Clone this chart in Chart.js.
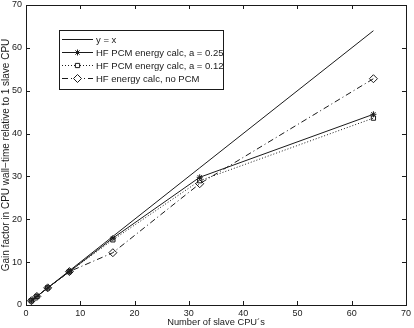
<!DOCTYPE html>
<html>
<head>
<meta charset="utf-8">
<script src="https://cdn.jsdelivr.net/npm/chart.js@4.4.1/dist/chart.umd.min.js"></script>
<style>
  html, body { margin: 0; padding: 0; background: #fff; }
  #wrap { width: 414px; height: 328px; }
</style>
</head>
<body>
<div id="wrap"><canvas id="chart" width="414" height="328"></canvas></div>
<script>
// number of slave CPUs
const cpus = [1, 2, 4, 8, 16, 32, 64];
// gain factors
const ideal = [1, 2, 4, 8, 16, 32, 64];
const pcm025 = [1, 2, 4, 7.8, 15.6, 29.8, 44.5];
const pcm012 = [1, 2, 4, 7.8, 15.2, 29.0, 43.6];
const noPcm = [1, 2, 4, 7.8, 12.2, 28.3, 52.8];
const seriesNames = ['y = x', 'HF PCM energy calc, a = 0.25', 'HF PCM energy calc, a = 0.12', 'HF energy calc, no PCM'];
const axisTicks = [0, 10, 20, 30, 40, 50, 60, 70];

const FONT = 'Liberation Sans, Arial, sans-serif';
const INK = '#1a1a1a';

function toPoints(ys) {
  return cpus.map((x, i) => ({ x: x, y: ys[i] }));
}

// inward ticks on all four sides plus the box
const boxTicks = {
  id: 'boxTicks',
  afterDraw(chart) {
    const { ctx, chartArea: a, scales } = chart;
    ctx.save();
    ctx.strokeStyle = INK;
    ctx.lineWidth = 1;
    ctx.strokeRect(a.left + 0.5, a.top + 0.5, a.right - a.left, a.bottom - a.top);
    ctx.beginPath();
    axisTicks.forEach(v => {
      const px = Math.round(scales.x.getPixelForValue(v)) + 0.5;
      ctx.moveTo(px, a.bottom); ctx.lineTo(px, a.bottom - 4);
      ctx.moveTo(px, a.top); ctx.lineTo(px, a.top + 4);
      const py = Math.round(scales.y.getPixelForValue(v)) + 0.5;
      ctx.moveTo(a.left, py); ctx.lineTo(a.left + 4, py);
      ctx.moveTo(a.right, py); ctx.lineTo(a.right - 4, py);
    });
    ctx.stroke();
    ctx.restore();
  }
};

// matlab style legend box inside the plot
const boxLegend = {
  id: 'boxLegend',
  afterDatasetsDraw(chart) {
    const { ctx, chartArea: a } = chart;
    const left = a.left + 33, top = a.top + 25, w = 164, h = 59;
    ctx.save();
    ctx.fillStyle = '#fff';
    ctx.fillRect(left, top, w, h);
    ctx.strokeStyle = INK;
    ctx.lineWidth = 1;
    ctx.strokeRect(left + 0.5, top + 0.5, w, h);
    chart.data.datasets.forEach((ds, i) => {
      const y = top + 9.5 + i * 13;
      ctx.strokeStyle = ds.borderColor;
      ctx.lineWidth = ds.borderWidth;
      ctx.setLineDash(ds.borderDash || []);
      ctx.beginPath();
      ctx.moveTo(left + 3, y);
      ctx.lineTo(left + 34, y);
      ctx.stroke();
      ctx.setLineDash([]);
      if (ds.pointRadius > 0) {
        // blank out the line under hollow markers, like the plot does
        ctx.fillStyle = ds.pointBackgroundColor === INK ? INK : '#fff';
        ctx.strokeStyle = INK;
        Chart.helpers.drawPoint(ctx, {
          pointStyle: ds.pointStyle,
          radius: ds.pointRadius,
          borderWidth: 1,
          rotation: 0
        }, left + 18.5, y);
      }
      ctx.fillStyle = INK;
      ctx.font = '9.5px ' + FONT;
      ctx.textBaseline = 'middle';
      ctx.fillText(ds.label, left + 37, y + 0.5);
    });
    ctx.restore();
  }
};

const ctx = document.getElementById('chart').getContext('2d');
new Chart(ctx, {
  type: 'line',
  data: {
    datasets: [
      {
        label: seriesNames[0], data: toPoints(ideal),
        borderColor: INK, borderWidth: 1, pointRadius: 0
      },
      {
        label: seriesNames[1], data: toPoints(pcm025),
        borderColor: INK, borderWidth: 1,
        pointStyle: 'star', pointRadius: 3, pointBorderColor: INK, pointBackgroundColor: INK
      },
      {
        label: seriesNames[2], data: toPoints(pcm012),
        borderColor: INK, borderWidth: 1, borderDash: [1, 2],
        pointStyle: 'rect', pointRadius: 3, pointBorderColor: INK, pointBackgroundColor: 'rgba(0,0,0,0)'
      },
      {
        label: seriesNames[3], data: toPoints(noPcm),
        borderColor: INK, borderWidth: 1, borderDash: [6, 3, 1, 3],
        pointStyle: 'rectRot', pointRadius: 4, pointBorderColor: INK, pointBackgroundColor: 'rgba(0,0,0,0)'
      }
    ]
  },
  options: {
    responsive: false,
    animation: false,
    layout: { padding: { left: 0, top: 0, right: 4, bottom: 0 } },
    elements: { line: { tension: 0 }, point: { borderWidth: 1 } },
    plugins: {
      legend: { display: false },
      tooltip: { enabled: false }
    },
    scales: {
      x: {
        type: 'linear', min: 0, max: 70,
        afterBuildTicks: s => { s.ticks = axisTicks.map(v => ({ value: v })); },
        afterFit: s => { s.height = 23; },
        grid: { display: false, drawTicks: false },
        border: { display: false },
        ticks: { color: INK, font: { family: FONT, size: 9 }, padding: 3, maxRotation: 0 },
        title: { display: true, text: 'Number of slave CPU´s', color: INK, font: { family: FONT, size: 9.3 }, padding: 0 }
      },
      y: {
        type: 'linear', min: 0, max: 70,
        afterBuildTicks: s => { s.ticks = axisTicks.map(v => ({ value: v })); },
        afterFit: s => { s.width = 26; s.paddingTop = 4; s.paddingBottom = 0; },
        grid: { display: false, drawTicks: false },
        border: { display: false },
        ticks: { color: INK, font: { family: FONT, size: 9 }, padding: 4 },
        title: { display: true, text: 'Gain factor in CPU wall−time relative to 1 slave CPU', color: INK, font: { family: FONT, size: 10 }, padding: 0 }
      }
    }
  },
  plugins: [boxTicks, boxLegend]
});
</script>
</body>
</html>
